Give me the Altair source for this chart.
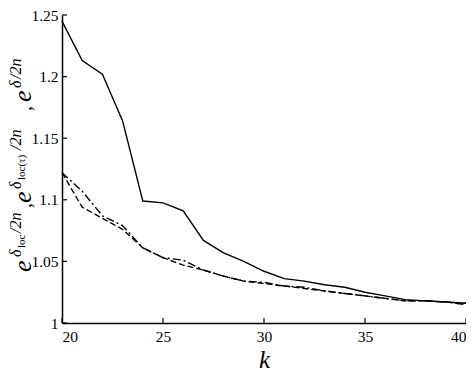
import altair as alt
import pandas as pd

k = list(range(20, 41))
solid = [1.245, 1.213, 1.202, 1.164, 1.099, 1.0975, 1.091, 1.067, 1.057, 1.050, 1.042,
         1.036, 1.034, 1.031, 1.029, 1.025, 1.022, 1.019, 1.018, 1.017, 1.016]
dashed = [1.122, 1.094, 1.085, 1.076, 1.061, 1.053, 1.047, 1.043, 1.038, 1.034, 1.032,
          1.030, 1.028, 1.026, 1.024, 1.022, 1.020, 1.018, 1.018, 1.017, 1.016]
dashdot = [1.122, 1.107, 1.087, 1.079, 1.061, 1.053, 1.051, 1.043, 1.038, 1.034, 1.033,
           1.030, 1.029, 1.026, 1.024, 1.022, 1.020, 1.018, 1.018, 1.017, 1.015]

x_ticks = [20, 25, 30, 35, 40]
y_ticks = [1.0, 1.05, 1.1, 1.15, 1.2, 1.25]

FONT = "Liberation Serif, Times New Roman, DejaVu Serif, serif"
W, H = 404, 308
TOP = 7

df = pd.DataFrame({"k": k, "solid": solid, "dashed": dashed, "dashdot": dashdot})

xs = alt.Scale(domain=[20, 40], nice=False, zero=False)
ys = alt.Scale(domain=[1.0, 1.25], nice=False, zero=False)

xaxis = alt.Axis(values=x_ticks, ticks=False, grid=False, domainColor="black", domainWidth=1.5,
                 labelFont=FONT, labelFontSize=15.5, labelColor="black", labelPadding=6,
                 title="k", titleFont=FONT, titleFontSize=25, titleFontStyle="italic",
                 titleFontWeight="normal", titleColor="black", titlePadding=3)
yaxis = alt.Axis(values=y_ticks, ticks=False, grid=False, domainColor="black", domainWidth=1.5,
                 labelFont=FONT, labelFontSize=15.5, labelColor="black", labelPadding=4,
                 format=".2~f", title=None)

base = alt.Chart(df)


def line(col, dash):
    enc = dict(
        x=alt.X("k:Q", scale=xs, axis=xaxis),
        y=alt.Y(f"{col}:Q", scale=ys, axis=yaxis),
    )
    m = base.mark_line(color="black", strokeWidth=1.4, strokeDash=dash) if dash else \
        base.mark_line(color="black", strokeWidth=1.4)
    return m.encode(**enc)


l_solid = line("solid", None)
l_dashed = line("dashed", [6, 3])
l_dashdot = line("dashdot", [8, 3, 2, 3])

xt = alt.Chart(pd.DataFrame({"t": x_ticks})).mark_rule(color="black", strokeWidth=1.2).encode(
    x=alt.X("t:Q", scale=xs, axis=xaxis), y=alt.value(H), y2=alt.value(H - 5))
yt = alt.Chart(pd.DataFrame({"t": y_ticks})).mark_rule(color="black", strokeWidth=1.2).encode(
    y=alt.Y("t:Q", scale=ys, axis=yaxis), x=alt.value(0), x2=alt.value(5))

# y-axis title pieces: (text, baseline x on page, start y on page, font size, style)
OX, OY = 62, 8 + TOP
title_pieces = [
    ("e", 31, 272, 26, "italic"), ("δ", 21, 257, 16, "italic"),
    ("loc", 25, 248, 11, "normal"), ("/2n", 21, 233, 16, "italic"), (",", 31, 208, 20, "normal"),
    ("e", 31, 203, 26, "italic"), ("δ", 21, 189, 16, "italic"),
    ("loc(τ)", 25, 180, 11, "normal"), ("/2n", 21, 150, 16, "italic"), (",", 31, 111, 20, "normal"),
    ("e", 31, 102, 26, "italic"), ("δ", 21, 88, 16, "italic"), ("/2n", 21, 79, 16, "italic"),
]

title_layers = []
for txt, px, py, fs, style in title_pieces:
    title_layers.append(
        alt.Chart(pd.DataFrame({"t": [txt]})).mark_text(
            angle=270, align="left", baseline="alphabetic", font=FONT, fontStyle=style,
            fontSize=fs, color="black"
        ).encode(x=alt.value(px - OX), y=alt.value(py - OY), text="t:N")
    )

chart = alt.layer(
    l_solid, l_dashed, l_dashdot, xt, yt, *title_layers
).properties(
    width=W, height=H,
    autosize=alt.AutoSizeParams(type="none"),
    padding={"left": 54, "top": TOP, "right": 0, "bottom": 56},
    background="white",
).configure_view(stroke=None)

chart.save("out.html", embed_options={"renderer": "svg", "actions": False})
